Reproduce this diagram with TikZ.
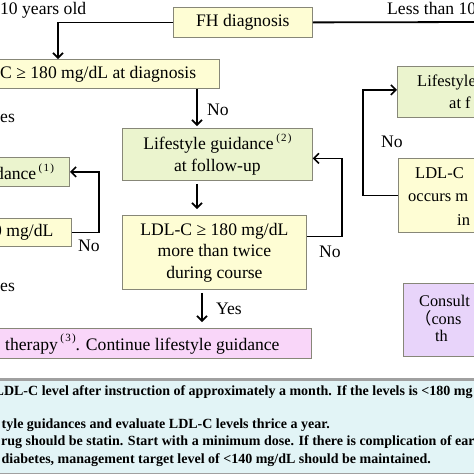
\documentclass[tikz,border=0pt]{standalone}
\usepackage{fontspec}
\setmainfont{Liberation Serif}
\newfontfamily\cjk{Noto Sans CJK JP}
\usetikzlibrary{arrows.meta}
\definecolor{grn}{RGB}{235,244,206}
\definecolor{ylw}{RGB}{254,253,212}
\definecolor{mag}{RGB}{249,214,249}
\definecolor{lav}{RGB}{232,212,250}
\definecolor{notefill}{RGB}{226,244,246}
\definecolor{bord}{RGB}{135,135,120}
\definecolor{notebord}{RGB}{160,160,160}
\newcommand\mysup[1]{\kern2.5pt\raisebox{0.48em}{\fontsize{11}{11}\selectfont(\kern1.2pt#1\kern1.2pt)}}
\tikzset{
  box/.style={draw=bord, line width=0.8pt, inner sep=0pt, anchor=north west},
  gbox/.style={box, fill=grn},
  ybox/.style={box, fill=ylw},
  mbox/.style={box, fill=mag},
  lbox/.style={box, fill=lav},
  mtxt/.style={font=\fontsize{17.6}{21.5}\selectfont, align=center},
  lbl/.style={inner sep=0pt, font=\fontsize{17.6}{21.5}\selectfont},
  rlbl/.style={inner sep=0pt, font=\fontsize{16.5}{20}\selectfont, anchor=west},
  clbl/.style={inner sep=0pt, font=\fontsize{16.3}{18}\selectfont, anchor=west},
  nlbl/.style={inner sep=0pt, font=\fontsize{14}{17}\selectfont\bfseries, anchor=west},
  conn/.style={line width=1.8pt, -{Straight Barb[length=5pt,width=10pt,line width=1.6pt]}},
  plainline/.style={line width=1.8pt},
}
\begin{document}
\begin{tikzpicture}[x=1pt,y=-1pt]
\useasboundingbox (0,0) rectangle (474,474);
\clip (0,0) rectangle (474,474);
\fill[white] (0,0) rectangle (474,474);

% top
\node[ybox, mtxt, minimum width=139, minimum height=30] (fh) at (173,7) {FH diagnosis};
\node[lbl, anchor=base west] (old) at (0,14) {10 years old};
\node[lbl, anchor=base west] (young) at (387,14) {Less than 10};
\coordinate (rend) at (480,22);
\draw[plainline] (fh.east) -- (rend);

% diagnosis box
\node[ybox, anchor=north east, minimum width=260, minimum height=29] (diag) at (220,59) {};
\node[lbl, anchor=west] (diagt) at (0,74) {C ≥ 180 mg/dL at diagnosis};
\draw[conn] (fh.west) -| ([xshift=-162pt]diag.north east);

\node[lbl, anchor=west] (yes1) at (0,118) {es};
\node[lbl, anchor=west] (yes2) at (0,287) {es};

% middle column
\node[gbox, mtxt, minimum width=190, minimum height=52] (life) at (122,128) {Lifestyle guidance\mysup{2}\\at follow-up};
\node[ybox, mtxt, minimum width=184, minimum height=74] (ldl) at (122,215) {LDL-C ≥ 180 mg/dL\\more than twice\\during course};
\draw[conn, shorten >=2pt] ([xshift=-23pt]diag.south east) -- ([xshift=75pt]life.north west);
\node[lbl] (no1) at (218,110) {No};
\draw[conn, shorten <=3pt, shorten >=6pt] ([xshift=75pt]life.south west) -- ([xshift=75pt]ldl.north west);
\draw[conn] ([yshift=16pt]ldl.east) -- ++(35,0) |- ([yshift=-4pt]life.east);
\node[lbl] (no2) at (330,252) {No};

% magenta
\node[mbox, anchor=north east, minimum width=340, minimum height=30] (magb) at (312,328) {};
\node[lbl, anchor=west] (magt) at (5,344) {therapy\mysup{3}. Continue lifestyle guidance};
\draw[conn, shorten <=3pt, shorten >=6pt] ([xshift=80pt]ldl.south west) -- ([xshift=-110pt]magb.north east);
\node[lbl] (yes3) at (229,309) {Yes};

% left column
\node[gbox, anchor=north east, minimum width=150, minimum height=29] (g1) at (70,157) {};
\node[lbl, anchor=west] (g1t) at (-5,172) {dance\mysup{1}};
\node[ybox, anchor=north east, minimum width=150, minimum height=28] (m1) at (72,218) {};
\node[lbl, anchor=west] (m1t) at (-7,232) {0 mg/dL};
\draw[conn] (m1.east) -- ++(27,0) |- (g1.east);
\node[lbl] (no3) at (89,246) {No};

% right column
\node[gbox, minimum width=190, minimum height=51] (rlife) at (397,66) {};
\node[rlbl] (rl1) at (417,82) {Lifestyle};
\node[rlbl] (rl2) at (449,103) {at f};
\node[ybox, minimum width=184, minimum height=74] (rldl) at (398,158) {};
\node[rlbl] (rd1) at (415,173) {LDL-C};
\node[rlbl] (rd2) at (408,198) {occurs m};
\node[rlbl] (rd3) at (457,220) {in};
\draw[conn] (rldl.west) -- ++(-35,0) |- ([yshift=2pt]rlife.west);
\node[lbl] (no4) at (392,142) {No};
\node[lbox, minimum width=200, minimum height=73] (cons) at (403,283) {};
\node[clbl] (c1) at (419,301) {Consult};
\node[clbl] (c2) at (415,318.5) {{\cjk （}cons};
\node[clbl] (c3) at (435,336) {th};

% notes
\node[box, draw=notebord, line width=3pt, fill=notefill, minimum width=500, minimum height=95] (note) at (-10,378) {};
\node[nlbl] (n1) at (-5.5,392) {LDL-C level after instruction of approximately a month. If the levels is <180 mg};
\node[nlbl] (n2) at (1.5,425) {tyle guidances and evaluate LDL-C levels thrice a year.};
\node[nlbl] (n3) at (1,442) {rug should be statin. Start with a minimum dose. If there is complication of ear};
\node[nlbl] (n4) at (1.5,460) {diabetes, management target level of <140 mg/dL should be maintained.};
\end{tikzpicture}
\end{document}
